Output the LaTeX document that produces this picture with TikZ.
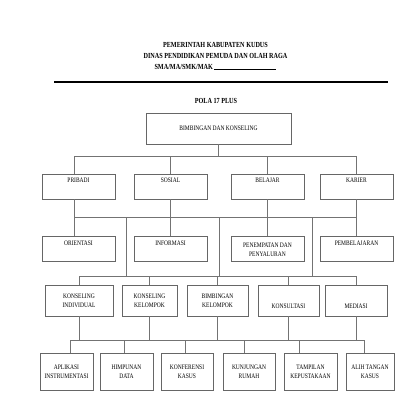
\documentclass[tikz,border=0pt]{standalone}
\usepackage{fontspec}
\setmainfont{Liberation Serif}[FakeStretch=0.8]
\usetikzlibrary{positioning}

\begin{document}
\begin{tikzpicture}[x=0.5mm, y=-0.5mm,
  box/.style={draw=black!60, line width=1.2pt, inner sep=0pt, align=center, font=\fontsize{9.8}{13}\selectfont},
  bidang/.style={box, minimum width=36.5mm, minimum height=12.5mm},
  layanan/.style={box, minimum height=15.5mm},
  kegiatan/.style={box, minimum height=18.5mm},
  link/.style={draw=black!55, line width=0.9pt},
  head/.style={font=\bfseries\fontsize{11}{15.6}\selectfont, align=center, inner sep=0pt}]

\useasboundingbox (0,0) rectangle (419,419);

% kop surat
\node[head] (kop) at (215.5,56)
  {PEMERINTAH KABUPATEN KUDUS\\ DINAS PENDIDIKAN PEMUDA DAN OLAH RAGA\\ SMA/MA/SMK/MAK\ \rule[-0.5pt]{31mm}{0.5pt}};
\coordinate (garisL) at (54,82);
\coordinate (garisR) at (388,82);
\draw[line width=1.3mm] (garisL) -- (garisR);
\node[head] (judul) at (216,101) {POLA 17 PLUS};

% puncak
\node[box, minimum width=72.5mm, minimum height=15.5mm] (bk) at (218.5,128.5) {BIMBINGAN DAN KONSELING};

% bidang bimbingan
\node[bidang] (pribadi) at (78.5,186.5) {PRIBADI\\ \strut};
\node[bidang] (sosial) at (170.5,186.5) {SOSIAL\\ \strut};
\node[bidang] (belajar) at (267.5,186.5) {BELAJAR\\ \strut};
\node[bidang] (karier) at (356.5,186.5) {KARIER\\ \strut};

% fungsi
\node[bidang, below=18.5mm of pribadi] (orientasi) {ORIENTASI\\ \strut};
\node[bidang, below=18.5mm of sosial] (informasi) {INFORMASI\\ \strut};
\node[bidang, below=18.5mm of belajar] (penempatan) {PENEMPATAN DAN\\ PENYALURAN};
\node[bidang, below=18.5mm of karier] (pembelajaran) {PEMBELAJARAN\\ \strut};

% layanan
\node[layanan, minimum width=34mm] (kindividu) at (79,300.5) {KONSELING\\ INDIVIDUAL};
\node[layanan, minimum width=27.5mm] (kkelompok) at (149.5,300.5) {KONSELING\\ KELOMPOK};
\node[layanan, minimum width=30.5mm] (bkelompok) at (217.5,300.5) {BIMBINGAN\\ KELOMPOK};
\node[layanan, minimum width=30.5mm] (konsultasi) at (288.5,300.5) {\strut\\ KONSULTASI};
\node[layanan, minimum width=31mm] (mediasi) at (356,300.5) {\strut\\ MEDIASI};

% kegiatan pendukung
\node[kegiatan, minimum width=26.5mm] (aplikasi) at (66.5,371.5) {APLIKASI\\ INSTRUMENTASI};
\node[kegiatan, minimum width=26.5mm] (himpunan) at (126.5,371.5) {HIMPUNAN\\ DATA};
\node[kegiatan, minimum width=26mm] (konferensi) at (187,371.5) {KONFERENSI\\ KASUS};
\node[kegiatan, minimum width=26mm] (kunjungan) at (249,371.5) {KUNJUNGAN\\ RUMAH};
\node[kegiatan, minimum width=26.5mm] (tampilan) at (310.5,371.5) {TAMPILAN\\ KEPUSTAKAAN};
\node[kegiatan, minimum width=24mm] (alih) at (370,371.5) {ALIH TANGAN\\ KASUS};

% jalur garis
\coordinate (bus1) at (0,156);
\coordinate (bus2) at (0,217);
\coordinate (bus3) at (0,276);
\coordinate (bus4) at (0,340);
\coordinate (kpri) at ([xshift=-2.25mm]pribadi.south);
\coordinate (turun1) at (126,217);
\coordinate (turun2) at (219,217);
\coordinate (turun3) at (312,217);
\coordinate (kapl) at ([xshift=1.75mm]aplikasi.north);
\coordinate (khim) at ([xshift=-1.25mm]himpunan.north);
\coordinate (kkon) at ([xshift=-1mm]konferensi.north);
\coordinate (kkun) at ([xshift=-2.5mm]kunjungan.north);
\coordinate (ktam) at ([xshift=-5.75mm]tampilan.north);
\coordinate (kali) at ([xshift=-3mm]alih.north);

\draw[link] (bk.south) -- (bk.south |- bus1);
\draw[link] (kpri |- bus1) -- (karier.north |- bus1);
\draw[link] (kpri |- bus1) -- (kpri |- pribadi.north);
\draw[link] (sosial.north |- bus1) -- (sosial.north);
\draw[link] (belajar.north |- bus1) -- (belajar.north);
\draw[link] (karier.north |- bus1) -- (karier.north);

\draw[link] (kpri) -- (kpri |- orientasi.north);
\draw[link] (sosial.south) -- (informasi.north);
\draw[link] (belajar.south) -- (penempatan.north);
\draw[link] (karier.south) -- (pembelajaran.north);
\draw[link] (kpri |- bus2) -- (karier.south |- bus2);

\draw[link] (turun1) -- (turun1 |- bus3);
\draw[link] (turun2) -- (turun2 |- bus3);
\draw[link] (turun3) -- (turun3 |- bus3);
\draw[link] (kindividu.north |- bus3) -- (mediasi.north |- bus3);

\draw[link] (kindividu.north |- bus3) -- (kindividu.north);
\draw[link] (kkelompok.north |- bus3) -- (kkelompok.north);
\draw[link] (bkelompok.north |- bus3) -- (bkelompok.north);
\draw[link] (konsultasi.north |- bus3) -- (konsultasi.north);
\draw[link] (mediasi.north |- bus3) -- (mediasi.north);

\draw[link] (kindividu.south) -- (kindividu.south |- bus4);
\draw[link] (kkelompok.south) -- (kkelompok.south |- bus4);
\draw[link] (bkelompok.south) -- (bkelompok.south |- bus4);
\draw[link] (konsultasi.south) -- (konsultasi.south |- bus4);
\draw[link] (mediasi.south) -- (mediasi.south |- bus4);
\draw[link] (kapl |- bus4) -- (kali |- bus4);

\draw[link] (kapl |- bus4) -- (kapl);
\draw[link] (khim |- bus4) -- (khim);
\draw[link] (kkon |- bus4) -- (kkon);
\draw[link] (kkun |- bus4) -- (kkun);
\draw[link] (ktam |- bus4) -- (ktam);
\draw[link] (kali |- bus4) -- (kali);
\end{tikzpicture}
\end{document}
